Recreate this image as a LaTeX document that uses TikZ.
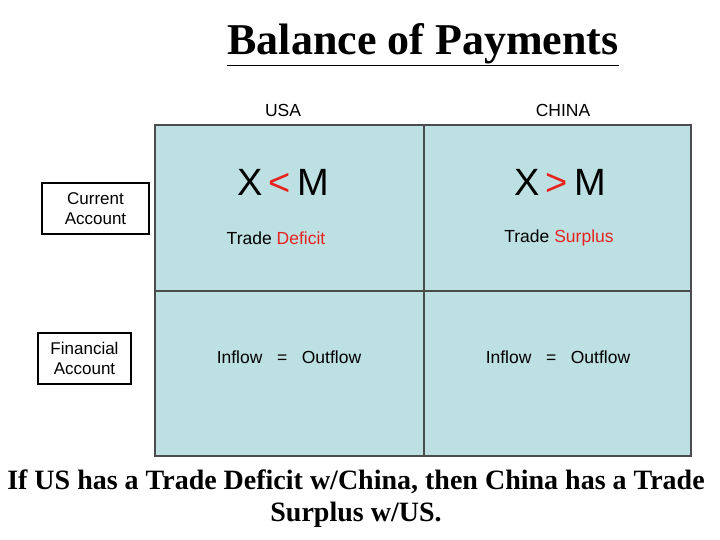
\documentclass[tikz,border=0pt]{standalone}
\usepackage{fontspec}
\setmainfont{Liberation Serif}
\setsansfont{Liberation Sans}
\begin{document}
\begin{tikzpicture}[x=1pt,y=-1pt,
  lbl/.style={font=\sffamily\fontsize{17.5}{20}\selectfont,inner sep=0},
  side/.style={draw,line width=1.5pt,font=\sffamily\fontsize{17}{20}\selectfont,align=center,inner sep=1pt},
  big/.style={font=\sffamily\fontsize{38}{40}\selectfont,inner sep=0},
  grid/.style={draw=black!70,line width=2.5pt}]
\useasboundingbox (0,0) rectangle (720,540);
\definecolor{cellblue}{HTML}{BDE0E3}
\definecolor{red1}{HTML}{E8231E}
\fill[cellblue] (155,125) rectangle (691,456);
\draw[grid] (155,125) rectangle (691,456);
\draw[grid] (424,125) -- (424,456);
\draw[grid] (155,291) -- (691,291);
\node[font=\bfseries\fontsize{44}{48}\selectfont,inner sep=0] (t) at (423,45) {\underline{Balance of Payments}};
\node[lbl] (usa) at (283,110) {USA};
\node[lbl] (china) at (563,110) {CHINA};
\node[side,minimum width=107,minimum height=51] (ca) at (95.5,208.5) {Current\\Account};
\node[side,minimum width=93,minimum height=51] (fa) at (84.5,358.5) {Financial\\Account};
\node[big] (x1) at (283,182) {X\,{\color{red1}<}\,M};
\node[big] (x2) at (560,182) {X\,{\color{red1}>}\,M};
\node[lbl] (d) at (276,238) {Trade {\color{red1}Deficit}};
\node[lbl] (s) at (559,238) {Trade {\color{red1}Surplus}};
\node[lbl] (f1) at (289,357) {Inflow\ \ \ =\ \ \ Outflow};
\node[lbl] (f2) at (558,357) {Inflow\ \ \ =\ \ \ Outflow};
\node[font=\bfseries\fontsize{28}{32}\selectfont,align=center,inner sep=0] (b) at (356,499) {If US has a Trade Deficit w/China, then China has a Trade\\Surplus w/US.};
\end{tikzpicture}
\end{document}
